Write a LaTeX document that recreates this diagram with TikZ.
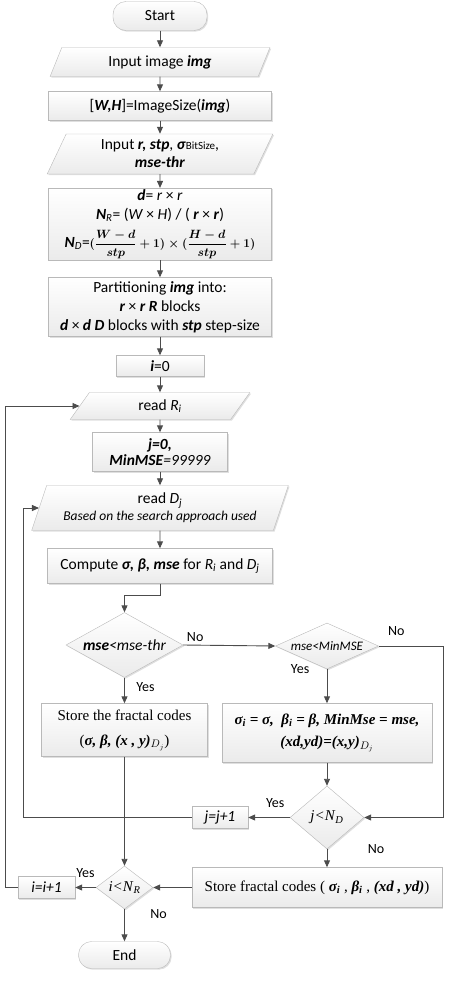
\documentclass[tikz,border=0pt]{standalone}
\usepackage{amsmath}
\usepackage{fontspec}
\setmainfont{Carlito}
\newfontfamily\tms{Liberation Serif}
\usetikzlibrary{shapes.geometric,arrows.meta,shadows}
\newcommand\dtext[1]{\makebox[0pt]{#1}}

\begin{document}
\begin{tikzpicture}[x=1pt,y=-1pt,font=\fontsize{15.5}{18}\selectfont,
   box/.style={draw=gray!55,top color=white,bottom color=gray!16,align=center,inner sep=1pt,
      drop shadow={opacity=.25,shadow xshift=1.2pt,shadow yshift=-1.2pt}},
   proc/.style={box,rectangle},
   io/.style={box,trapezium,trapezium left angle=68,trapezium right angle=112,trapezium stretches=true},
   term/.style={box,rectangle,rounded corners=13pt},
   dec/.style={box,diamond,inner sep=0pt},
   tm/.style={font=\tms\fontsize{15}{19}\selectfont},
   lbl/.style={font=\fontsize{14}{16}\selectfont},
   arr/.style={-{Triangle[length=7pt,width=6pt]},draw=black!70,line width=.9pt}]
   \useasboundingbox (0,0) rectangle (474,990);

   \node[term,minimum width=94pt,minimum height=29pt] (start) at (160,16) {Start};
   \node[io,minimum width=220pt,minimum height=29pt] (inimg) at (160,62) {Input image \textbf{\textit{img}}};
   \node[proc,minimum width=223pt,minimum height=29pt] (size) at (160,106) {[\textbf{\textit{W,H}}]=ImageSize(\textbf{\textit{img}})};
   \node[io,minimum width=226pt,minimum height=40pt] (inpar) at (160,154) {Input \textbf{\textit{r, stp}}, \textbf{\textit{σ}}{\fontsize{11}{12}\selectfont BitSize},\\\textbf{\textit{mse-thr}}};
   \node[proc,minimum width=223pt,minimum height=71pt] (calc) at (160,224) {\textbf{\textit{d}}= \textit{r} × \textit{r}\\[1pt]
      \textbf{\textit{N}}\textsubscript{\textit{R}}= (\textit{W} × \textit{H}) / ( \textbf{\textit{r}} × \textbf{\textit{r}})\\[8pt]
      \textbf{\textit{N}}\textsubscript{\textit{D}}={\boldmath\fontsize{13}{15}\selectfont$(\dfrac{W-d}{stp}+1)\times(\dfrac{H-d}{stp}+1)$}};
   \node[proc,minimum width=223pt,minimum height=59pt] (part) at (160,307) {Partitioning \textbf{\textit{img}} into:\\[1pt]
      \textbf{\textit{r}} × \textbf{\textit{r R}} blocks\\[1pt]
      \textbf{\textit{d}} × \textbf{\textit{d D}} blocks with \textbf{\textit{stp}} step-size};
   \node[proc,minimum width=88pt,minimum height=21pt] (i0) at (160,366) {\textbf{\textit{i}}=0};
   \node[io,minimum width=180pt,minimum height=27pt] (readR) at (160,406) {read \textit{R}\textsubscript{\textit{i}}};
   \node[proc,minimum width=135pt,minimum height=39pt] (j0) at (160,452) {\textbf{\textit{j=0,}}\\[-2pt]\textbf{\textit{MinMSE}}\textit{=99999}};
   \node[io,minimum width=257pt,minimum height=45pt] (readD) at (160,508) {read \textit{D}\textsubscript{\textit{j}}\\[-1pt]{\fontsize{13.5}{15}\selectfont\textit{Based on the search approach used}}};
   \node[proc,minimum width=225pt,minimum height=35pt] (comp) at (160,566) {Compute \textbf{\textit{σ, β, mse}} for \textit{R}\textsubscript{\textit{i}} and \textit{D}\textsubscript{\textit{j}}};

   \node[dec,minimum width=117pt,minimum height=65pt] (d1) at (124.5,645) {\dtext{\textbf{\textit{mse}}\textit{<mse-thr}}};
   \node[dec,minimum width=103pt,minimum height=46pt] (d2) at (327,646) {\dtext{\fontsize{13}{15}\selectfont\textit{mse<MinMSE}}};
   \node[proc,tm,minimum width=166pt,minimum height=53pt] (stL) at (124.5,730) {Store the fractal codes\\[6pt](\textbf{\textit{σ, β, (x , y)}}$_{D_j}$)};
   \node[proc,tm,minimum width=210pt,minimum height=59pt] (stR) at (327,733) {\textbf{\textit{σ\textsubscript{i} = σ,\ \ β\textsubscript{i} = β, MinMse = mse,}}\\[3pt]\textbf{\textit{(xd,yd)=(x,y)}}$_{D_j}$};
   \node[dec,tm,minimum width=74pt,minimum height=63pt] (d3) at (327,817.5) {\dtext{\textit{j<N}\textsubscript{\textit{D}}}};
   \node[proc,minimum width=56pt,minimum height=22pt] (jinc) at (220,817.5) {\textit{j=j+1}};
   \node[proc,tm,minimum width=250pt,minimum height=40pt] (stF) at (317,887.5) {Store fractal codes ( \textbf{\textit{σ\textsubscript{i}}} ,\ \textbf{\textit{β\textsubscript{i}}} , \textbf{\textit{(xd , yd)}})};
   \node[dec,tm,minimum width=57pt,minimum height=43pt] (d4) at (124.5,887.5) {\dtext{\textit{i<N}\textsubscript{\textit{R}}}};
   \node[proc,minimum width=57pt,minimum height=22pt] (iinc) at (46.5,887.5) {\textit{i=i+1}};
   \node[term,minimum width=92pt,minimum height=27pt] (stop) at (124.5,955) {End};

   \path (start) edge[arr] (inimg);
   \path (inimg) edge[arr] (size);
   \path (size) edge[arr] (inpar);
   \path (inpar) edge[arr] (calc);
   \path (calc) edge[arr] (part);
   \path (part) edge[arr] (i0);
   \path (i0) edge[arr] (readR);
   \path (readR) edge[arr] (j0);
   \path (j0) edge[arr] (readD);
   \path (readD) edge[arr] (comp);
   \draw[arr] (comp.south) -- ++(0,12) -| (d1.north);
   \path (d1.east) edge[arr] node[lbl,above right,pos=0] {No} (d2.west);
   \draw[arr] (d2.east) -- node[lbl,above=7pt,pos=.27] {No} ++(65,0) |- (d3.east);
   \path (d1.south) edge[arr] node[lbl,pos=.35,right=8pt] {Yes} (stL.north);
   \path (d2.south) edge[arr] node[lbl,pos=0,anchor=east,xshift=-14pt] {Yes} (stR.north);
   \path (stR.south) edge[arr] (d3.north);
   \path (d3.west) edge[arr] node[lbl,pos=.35,above=6pt] {Yes} (jinc.east);
   \draw[arr] (jinc.west) -- ++(-168,0) |- (readD.west);
   \path (d3.south) edge[arr] node[lbl,pos=0,anchor=west,xshift=37pt] {No} (d3.south |- stF.north);
   \path (stF.west) edge[arr] (d4.east);
   \path (stL.south) edge[arr] (d4.north);
   \path (d4.west) edge[arr] node[lbl,above=6pt] {Yes} (iinc.east);
   \draw[arr] (iinc.west) -- ++(-12,0) |- (readR.west);
   \path (d4.south) edge[arr] node[lbl,pos=.15,anchor=west,xshift=22pt] {No} (stop.north);

\end{tikzpicture}
\end{document}
